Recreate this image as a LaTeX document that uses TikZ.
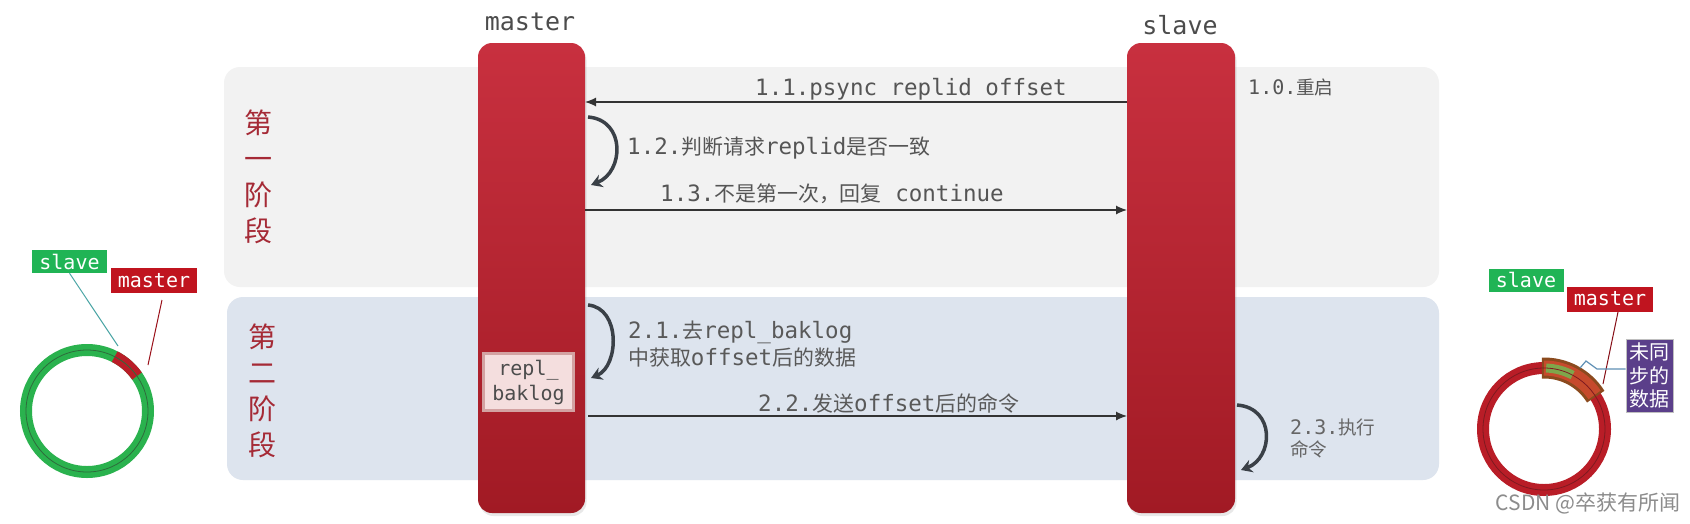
\documentclass[tikz,border=0pt]{standalone}
\usepackage{fontspec}
\usetikzlibrary{arrows.meta,shadows,calc}
\newfontfamily\mono{DejaVu Sans Mono}
\newfontfamily\cjk[Scale=0.93]{Noto Sans CJK SC}
\newfontfamily\cjkw{Noto Sans CJK SC}
\newcommand\zh[1]{{\cjk #1}}
\definecolor{barTop}{HTML}{C8303F}
\definecolor{barBot}{HTML}{A11A24}
\definecolor{pone}{HTML}{F2F2F2}
\definecolor{ptwo}{HTML}{DDE4EE}
\definecolor{phasetxt}{HTML}{A52A36}
\definecolor{txt}{HTML}{555555}
\definecolor{loopc}{HTML}{3A4047}
\definecolor{ringgreen}{HTML}{2AB24E}
\definecolor{ringline}{HTML}{2E6B3C}
\definecolor{ringred}{HTML}{B91D27}
\definecolor{ringredline}{HTML}{7E1A20}
\definecolor{lblgreen}{HTML}{20B455}
\definecolor{lblred}{HTML}{C0141F}
\definecolor{purp}{HTML}{5B3F8A}
\definecolor{bakfill}{HTML}{F4DEDE}
\definecolor{bakedge}{HTML}{D3A2A2}
\definecolor{bandbrown}{HTML}{8B4A1E}
\definecolor{bandorange}{HTML}{C64A2C}
\definecolor{bandgreen}{HTML}{7FA64B}
\definecolor{callc}{HTML}{5E8FB5}
\tikzset{
  barnode/.style={rounded corners=14pt, minimum width=107pt, minimum height=470pt, inner sep=0pt,
    top color=barTop, bottom color=barBot, draw=none,
    drop shadow={opacity=0.18, shadow xshift=1.5pt, shadow yshift=-3pt}},
  toplbl/.style={font=\mono\fontsize{25}{28}\selectfont, text=black!70, inner sep=0pt},
  lbl/.style={font=\mono\fontsize{22.5}{27}\selectfont, text=txt, inner sep=0pt, anchor=west, align=left},
  smalllbl/.style={font=\mono\fontsize{20}{22}\selectfont, text=txt, inner sep=0pt, anchor=west, align=left},
  msg/.style={draw=black!80, line width=1.2pt, -{Latex[length=11pt,width=9pt]}},
  loopar/.style={draw=loopc, line width=3.5pt, -{Stealth[length=11pt,width=13pt]}},
  phaselbl/.style={font=\cjkw\fontsize{28}{36}\selectfont, text=phasetxt, align=center, inner sep=0pt},
  tagg/.style={fill=lblgreen, text=white, font=\mono\fontsize{20}{22}\selectfont, minimum width=75pt, minimum height=23pt, inner sep=0pt},
  tagr/.style={fill=lblred, text=white, font=\mono\fontsize{20}{22}\selectfont, minimum width=86pt, minimum height=25pt, inner sep=0pt},
  baknode/.style={fill=bakfill, draw=bakedge, line width=3pt, minimum width=90pt, minimum height=57pt, inner sep=0pt,
    font=\mono\fontsize{20}{25}\selectfont, text=black!70, align=center},
  purpnode/.style={fill=purp, draw=black!25, line width=0.8pt, text=white, minimum width=47pt, minimum height=73pt, inner sep=0pt,
    font=\cjkw\fontsize{20}{23.5}\selectfont, align=center},
  wmark/.style={font=\cjkw\fontsize{21}{24}\selectfont, text=black!45, inner sep=0pt},
}
\begin{document}
\begin{tikzpicture}[x=1pt,y=-1pt]
\useasboundingbox (0,0) rectangle (1690,523);
\fill[white] (0,0) rectangle (1690,523);
% phase panels
\fill[pone, rounded corners=16pt] (224,67) rectangle (1439,287);
\fill[ptwo, rounded corners=16pt] (227,297) rectangle (1439,480);
\node[phaselbl] (ph1) at (258,177) {第\\一\\阶\\段};
\node[phaselbl] (ph2) at (262,391) {第\\二\\阶\\段};
% bars
\node[barnode] (master) at (531.5,278) {};
\node[barnode, minimum width=108pt] (slave) at (1181,278) {};
\node[toplbl] (mlbl) at (530,22) {master};
\node[toplbl] (slbl) at (1180,25) {slave};
% phase 1
\coordinate (s11) at (1127,102);
\coordinate (m11) at (585,102);
\draw[msg] (s11) -- (m11);
\node[lbl] (l11) at (755,89) {1.1.psync replid offset};
\node[smalllbl] (l10) at (1248,87) {1.0.\zh{重启}};
\coordinate (m12a) at (588,117);
\coordinate (m12b) at (591,185);
\draw[loopar] (m12a) .. controls (626,120) and (624,172) .. (m12b);
\node[lbl] (l12) at (627,148) {1.2.\zh{判断请求}replid\zh{是否一致}};
\coordinate (m13) at (585,210);
\coordinate (s13) at (1127,210);
\draw[msg] (m13) -- (s13);
\node[lbl] (l13) at (660,194) {1.3.\zh{不是第一次，回复} continue};
% phase 2
\node[baknode] (bak) at (528.5,382) {repl\_\\baklog};
\coordinate (m21a) at (588,305);
\coordinate (m21b) at (591,378);
\draw[loopar] (m21a) .. controls (621,308) and (619,366) .. (m21b);
\node[lbl, text=black!65] (l21) at (628,344) {2.1.\zh{去}repl\_baklog\\\zh{中获取}offset\zh{后的数据}};
\coordinate (m22) at (588,416);
\coordinate (s22) at (1127,416);
\draw[msg] (m22) -- (s22);
\node[lbl, text=black!65] (l22) at (758,403) {2.2.\zh{发送}offset\zh{后的命令}};
\coordinate (s23a) at (1237,405);
\coordinate (s23b) at (1241,470);
\draw[loopar] (s23a) .. controls (1276,408) and (1273,458) .. (s23b);
\node[smalllbl, text=black!60] (l23) at (1290,438) {2.3.\zh{执行}\\\zh{命令}};
% left ring
\coordinate (lc) at (87,411);
\draw[ringgreen, line width=12pt] (lc) circle[radius=61pt];
\draw[ringred, line width=12pt] ($(lc)+(63:61pt)$) arc[start angle=63, end angle=35, radius=61pt];
\draw[ringline, line width=0.8pt] (lc) circle[radius=61pt];
\node[tagg] (lsl) at (69.5,261.5) {slave};
\node[tagr] (lms) at (154,280.5) {master};
\coordinate (lr1) at (118,346);
\coordinate (lr2) at (148,365);
\coordinate (lms0) at (162,300);
\draw[teal!70, line width=1pt] (lsl.south) -- (lr1);
\draw[lblred!80!black, line width=1pt] (lms0) -- (lr2);
% right ring
\coordinate (rc) at (1544,429);
\draw[ringred, line width=12pt] (rc) circle[radius=61pt];
\draw[bandbrown, line width=21pt] ($(rc)+(92:61pt)$) arc[start angle=92, end angle=32, radius=61pt];
\draw[bandorange, line width=15pt] ($(rc)+(90:61pt)$) arc[start angle=90, end angle=34, radius=61pt];
\draw[bandgreen, line width=9pt] ($(rc)+(88:61pt)$) arc[start angle=88, end angle=62, radius=61pt];
\draw[ringredline, line width=0.8pt] (rc) circle[radius=61pt];
\node[tagg] (rsl) at (1526,280) {slave};
\node[tagr] (rms) at (1610,299) {master};
\coordinate (rms0) at (1618,312);
\coordinate (rr1) at (1603,384);
\draw[lblred!70!black, line width=1pt] (rms0) -- (rr1);
\node[purpnode] (purp) at (1649.5,375.5) {未同\\步的\\数据};
\coordinate (c1) at (1580,368);
\coordinate (c2) at (1586,361);
\coordinate (c3) at (1597,369);
\draw[callc, line width=1.2pt] (c1) -- (c2) -- (c3) -- (purp.west |- c3);
% watermark
\node[wmark] (wm) at (1588,503) {CSDN @卒获有所闻};
\end{tikzpicture}
\end{document}
